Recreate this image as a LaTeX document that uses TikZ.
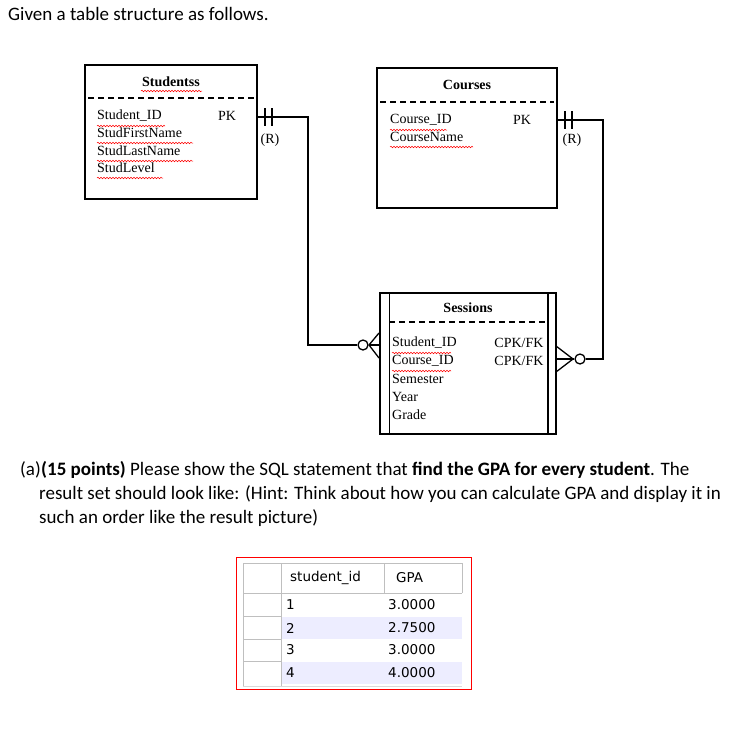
\documentclass[tikz,border=0pt]{standalone}
\usepackage{fontspec}
\setmainfont{Liberation Serif}
\newfontfamily\calfont{Carlito}
\newfontfamily\tahfont{DejaVu Sans}
\usetikzlibrary{decorations.pathmorphing}
\begin{document}
\begin{tikzpicture}[x=1pt,y=-1pt,
  ent/.style={draw,line width=1.6pt},
  dsh/.style={line width=1.3pt,dash pattern=on 6pt off 4pt},
  rel/.style={line width=1.3pt},
  tt/.style={font=\fontsize{14}{16}\selectfont,inner sep=0pt,anchor=west},
  ttc/.style={font=\fontsize{14}{16}\selectfont,inner sep=0pt},
  hd/.style={font=\bfseries\fontsize{14}{16}\selectfont,inner sep=0pt},
  sq/.style={red,line width=0.5pt,decorate,decoration={snake,amplitude=0.8pt,segment length=3pt}},
  body/.style={font=\calfont\fontsize{19}{22}\selectfont,inner sep=0pt,anchor=west},
  cell/.style={font=\tahfont\fontsize{13.5}{15}\selectfont,inner sep=0pt,anchor=west},
  grid/.style={draw=black!25,line width=0.8pt}]
\useasboundingbox (0,0) rectangle (736,731);
\node[body] (title) at (8,14) {Given a table structure as follows.};
% Students
\node[ent,minimum width=172,minimum height=134,inner sep=0pt] (stu) at (171,132) {};
\draw[dsh] (88,98) -- (254,98);
\node[hd] (stuh) at (171,82) {Studentss};
\node[tt] (s1) at (97,116) {Student\_ID};
\node[tt] (s2) at (97,133) {StudFirstName};
\node[tt] (s3) at (97,151) {StudLastName};
\node[tt] (s4) at (97,168) {StudLevel};
\node[ttc] (spk) at (227,116) {PK};
% Courses
\node[ent,minimum width=180,minimum height=140,inner sep=0pt] (cou) at (467,138) {};
\draw[dsh] (380,102) -- (554,102);
\node[hd] (couh) at (467,85) {Courses};
\node[tt] (c1) at (390,120) {Course\_ID};
\node[tt] (c2) at (390,137) {CourseName};
\node[ttc] (cpk) at (522,120) {PK};
% Sessions
\node[ent,minimum width=176,minimum height=141,inner sep=0pt] (ses) at (468,363.5) {};
\draw[line width=0.8pt] (389,293) -- (389,434);
\draw[line width=1.6pt] (548,293) -- (548,434);
\draw[dsh] (389,322) -- (548,322);
\node[hd] (sesh) at (468,308) {Sessions};
\node[tt] (e1) at (392,343) {Student\_ID};
\node[tt] (e2) at (392,361) {Course\_ID};
\node[tt] (e3) at (392,379) {Semester};
\node[tt] (e4) at (392,397) {Year};
\node[tt] (e5) at (392,415) {Grade};
\node[ttc] (ef1) at (519,343) {CPK/FK};
\node[ttc] (ef2) at (519,361) {CPK/FK};
% squiggles
\foreach \a/\b/\y in {141/202/91, 97/165/126, 97/193/143, 97/193/161, 97/163/178, 390/447/130, 390/473/147, 392/451/353, 392/451/371}
  \draw[sq] (\a,\y) -- (\b,\y);
% relationship Students - Sessions
\coordinate (sa) at (308,117);
\coordinate (sb) at (308,345);
\node[draw,circle,rel,minimum size=10,inner sep=0pt,fill=white] (o1) at (363,345) {};
\coordinate (f1) at (369,345);
\draw[rel] (stu.east |- sa) -- (sa) -- (sb) -- (o1.west);
\draw[rel] (o1.east) -- (ses.west |- f1);
\draw[rel] (f1) -- (379,333) (f1) -- (379,358);
\draw[rel] (265,108) -- (265,126) (272,108) -- (272,126);
\node[ttc] (r1) at (270,140) {(R)};
% relationship Courses - Sessions
\coordinate (ca) at (603,120);
\coordinate (cb) at (603,359);
\node[draw,circle,rel,minimum size=10,inner sep=0pt,fill=white] (o2) at (580,359) {};
\coordinate (f2) at (573,359);
\draw[rel] (cou.east |- ca) -- (ca) -- (cb) -- (o2.east);
\draw[rel] (o2.west) -- (ses.east |- f2);
\draw[rel] (f2) -- (556,346) (f2) -- (556,372);
\draw[rel] (565,111) -- (565,129) (572,111) -- (572,129);
\node[ttc] (r2) at (572,140) {(R)};
% question text
\node[body] (qa) at (20,470) {(a)};
\node[body] (q1) at (41,470) {\textbf{(15 points)} Please show the SQL statement that \textbf{find the GPA for every student}. The};
\node[body] (q2) at (39,494) {result set should look like: (Hint: Think about how you can calculate GPA and display it in};
\node[body] (q3) at (39,518) {such an order like the result picture)};
% result table
\node[draw=red,line width=1pt,minimum width=235,minimum height=132,inner sep=0pt] (tab) at (353.5,623) {};
\fill[blue!7] (282,617) rectangle (462,639);
\fill[blue!7] (282,662) rectangle (462,684);
\draw[grid] (243,563) -- (462,563);
\draw[grid] (243,593) -- (462,593);
\draw[grid] (243,563) -- (243,686);
\draw[grid] (281,563) -- (281,686);
\draw[grid] (384,563) -- (384,593);
\draw[grid] (462,563) -- (462,593);
\draw[grid] (243,616) -- (281,616) (243,639) -- (281,639) (243,661) -- (281,661);
\draw[draw=black!15] (243,686) -- (462,686);
\node[cell] (h1) at (290,578) {student\_id};
\node[cell] (h2) at (396,578) {GPA};
\node[cell] (a1) at (286,605) {1};
\node[cell] (a2) at (286,628) {2};
\node[cell] (a3) at (286,650) {3};
\node[cell] (a4) at (286,673) {4};
\node[cell] (g1) at (388,605) {3.0000};
\node[cell] (g2) at (388,628) {2.7500};
\node[cell] (g3) at (388,650) {3.0000};
\node[cell] (g4) at (388,673) {4.0000};
\end{tikzpicture}
\end{document}
